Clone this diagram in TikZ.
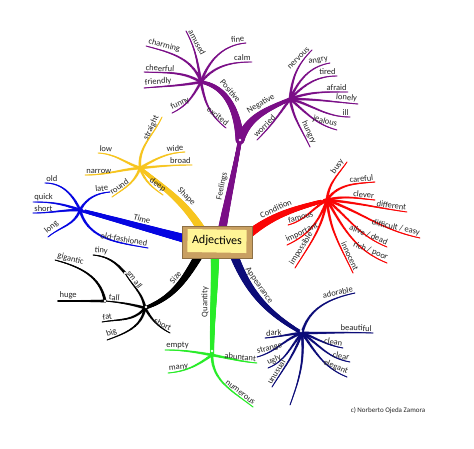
\documentclass[tikz,border=0pt]{standalone}
\usepackage{fontspec}
\setmainfont{Carlito}
\usetikzlibrary{positioning,decorations.markings}

\definecolor{feelc}{RGB}{122,14,135}
\definecolor{condc}{RGB}{250,5,5}
\definecolor{timec}{RGB}{5,5,225}
\definecolor{shapec}{RGB}{247,197,30}
\definecolor{quantc}{RGB}{40,236,40}
\definecolor{appc}{RGB}{12,12,120}
\definecolor{corkc}{RGB}{201,160,98}
\definecolor{notec}{RGB}{255,244,150}

\begin{document}
\begin{tikzpicture}[x=1pt, y=-1pt,
  taper/.style 2 args={line width=#2, line cap=round,
    postaction={decorate, decoration={markings,
      mark=between positions 0 and 1 step 1pt with {
        \pgfmathsetmacro\rr{(#1-(#1-#2)*\pgfkeysvalueof{/pgf/decoration/mark info/distance from start}/\pgfdecoratedpathlength)/2}
        \fill (0,0) circle (\rr pt);}}}},
  leaf/.style={taper={3.2}{0.9}},
  trunk/.style={taper={9}{3.5}},
  lbl/.style={font=\fontsize{8.5}{9.5}\selectfont, text=black!85, inner sep=1pt},
  tag/.style={lbl, sloped, above=2pt},
  cork/.style={rectangle, fill=corkc, draw=corkc!70!black, line width=0.4pt, minimum width=70pt, minimum height=32pt},
  note/.style={rectangle, fill=notec, minimum width=59pt, minimum height=23pt, font=\fontsize{12}{13}\selectfont, inner sep=1pt},
  dot/.style={fill=white}
]
\useasboundingbox[fill=white] (0,0) rectangle (474,448);

% Hubs
\coordinate (feelS) at (221,236);
\coordinate (F) at (240,140);
\coordinate (pos) at (201,82);
\coordinate (neg) at (290,99);
\coordinate (condS) at (244,238);
\coordinate (cond) at (327,200);
\coordinate (timeS) at (190,240);
\coordinate (time) at (80,210);
\coordinate (shapeS) at (204,234);
\coordinate (shape) at (140,168);
\coordinate (sizeS) at (202,250);
\coordinate (size) at (145,308);
\coordinate (quantS) at (215,250);
\coordinate (quant) at (212,355);
\coordinate (appS) at (232,250);
\coordinate (app) at (302,333);
\coordinate (smalldot) at (125,273);
\coordinate (talldot) at (105,301);

% Main branches
\draw[trunk, feelc, taper={6}{4}] (feelS) to[out=80, in=-100] node[tag, pos=0.5] (l-feel) {Feelings} (F);
\draw[trunk, feelc, taper={4.5}{3}] (F) to[out=95, in=-10] node[tag, pos=0.62] (l-pos) {Positive} (pos);
\draw[trunk, feelc, taper={4.5}{3}] (F) to[out=70, in=205] node[tag, pos=0.6] (l-neg) {Negative} (neg);
\draw[trunk, condc] (condS) to[out=40, in=195] node[tag, pos=0.45] (l-cond) {Condition} (cond);
\draw[trunk, timec] (timeS) to[out=165, in=-15] node[tag, pos=0.45] (l-time) {Time} (time);
\draw[trunk, shapec] (shapeS) to[out=120, in=-40] node[tag, pos=0.42] (l-shape) {Shape} (shape);
\draw[trunk, black] (sizeS) to[out=-120, in=20] node[tag, pos=0.45] (l-size) {Size} (size);
\draw[trunk, quantc, taper={7}{4}] (quantS) to[out=-90, in=90] (quant);
\draw[trunk, appc] (appS) to[out=-70, in=150] node[tag, pos=0.4] (l-app) {Appearance} (app);
\node[lbl, rotate=90] (l-quant) at (205,302) {Quantity};

% Feelings: positive
\foreach \nm/\ax/\ay/\ao/\ai/\txt in {
  amused/186/31/100/-62/amused,
  fine/246/43/70/185/fine,
  calm/252/62/50/180/calm,
  charming/146/46/110/-15/charming,
  cheerful/144/72/150/-3/cheerful,
  friendly/144/88/190/5/friendly,
  funny/172/113/240/25/funny,
  excited/226/128/280/142/excited}
{
  \pgfmathtruncatemacro\lft{cos(\ai)>0}
  \ifnum\lft=1 \def\anc{south west}\else\def\anc{south east}\fi
  \coordinate (\nm) at (\ax,\ay);
  \draw[leaf, feelc] (pos) to[out=\ao, in=\ai] node[lbl, sloped, pos=1, anchor=\anc] (l-\nm) {\txt} (\nm);
}

% Feelings: negative
\foreach \nm/\ax/\ay/\ao/\ai/\txt in {
  nervous/312/50/85/225/nervous,
  angry/330/63/65/190/angry,
  tired/337/76/45/180/tired,
  afraid/348/92/20/180/afraid,
  lonely/358/104/0/175/lonely,
  ill/350/117/-15/180/ill,
  jealous/337/130/-40/165/jealous,
  hungry/310/147/-80/115/hungry,
  worried/257/140/235/45/worried}
{
  \pgfmathtruncatemacro\lft{cos(\ai)>0}
  \ifnum\lft=1 \def\anc{south west}\else\def\anc{south east}\fi
  \coordinate (\nm) at (\ax,\ay);
  \draw[leaf, feelc] (neg) to[out=\ao, in=\ai] node[lbl, sloped, pos=1, anchor=\anc] (l-\nm) {\txt} (\nm);
}

% Condition
\foreach \nm/\ax/\ay/\ao/\ai/\txt in {
  busy/347/162/85/235/busy,
  careful/375/182/55/185/careful,
  clever/375/200/15/175/clever,
  different/407/212/-5/172/different,
  difficult/420/238/-20/168/{difficult / easy},
  alive/387/247/-40/158/{alive / dead},
  rich/387/263/-60/158/{rich / poor},
  innocent/353/273/-85/115/innocent,
  impossible/295/268/-100/58/impossible,
  important/287/245/-110/25/important,
  famous/288/225/-150/15/famous}
{
  \pgfmathtruncatemacro\lft{cos(\ai)>0}
  \ifnum\lft=1 \def\anc{south west}\else\def\anc{south east}\fi
  \coordinate (\nm) at (\ax,\ay);
  \draw[leaf, condc] (cond) to[out=\ao, in=\ai] node[lbl, sloped, pos=1, anchor=\anc] (l-\nm) {\txt} (\nm);
}

% Time
\foreach \nm/\ax/\ay/\ao/\ai/\txt in {
  old/45/183/115/0/old,
  quick/33/202/160/0/quick,
  t-short/33/213/180/0/short,
  long/48/237/-110/40/long,
  late/110/192/60/185/late,
  oldfash/148/248/-75/170/old-fashioned}
{
  \pgfmathtruncatemacro\lft{cos(\ai)>0}
  \ifnum\lft=1 \def\anc{south west}\else\def\anc{south east}\fi
  \coordinate (\nm) at (\ax,\ay);
  \draw[leaf, timec] (time) to[out=\ao, in=\ai] node[lbl, sloped, pos=1, anchor=\anc] (l-\nm) {\txt} (\nm);
}

% Shape
\foreach \nm/\ax/\ay/\ao/\ai/\txt in {
  straight/162/117/95/245/straight,
  low/98/153/160/-3/low,
  wide/185/152/30/183/wide,
  broad/192/165/5/180/broad,
  narrow/85/175/185/0/narrow,
  round/112/197/-110/35/round,
  deep/163/195/-70/145/deep}
{
  \pgfmathtruncatemacro\lft{cos(\ai)>0}
  \ifnum\lft=1 \def\anc{south west}\else\def\anc{south east}\fi
  \coordinate (\nm) at (\ax,\ay);
  \draw[leaf, shapec] (shape) to[out=\ao, in=\ai] node[lbl, sloped, pos=1, anchor=\anc] (l-\nm) {\txt} (\nm);
}

% Size
\coordinate (tiny) at (93,255);
\coordinate (huge) at (58,301);
\coordinate (gigantic) at (55,260);
\draw[leaf, black] (size) to[out=100, in=-60] node[lbl, sloped, pos=0.75, above] (l-small) {sm all} (smalldot);
\draw[leaf, black, taper={2.2}{0.9}] (smalldot) to[out=130, in=-5] node[lbl, sloped, pos=1, anchor=south west] (l-tiny) {tiny} (tiny);
\draw[leaf, black] (size) to[out=165, in=-5] node[lbl, sloped, pos=0.8, above] (l-tall) {tall} (talldot);
\draw[leaf, black, taper={2.4}{1.2}] (talldot) to[out=180, in=0] node[lbl, sloped, pos=1, anchor=south west] (l-huge) {huge} (huge);
\draw[leaf, black, taper={2.2}{0.9}] (talldot) to[out=100, in=-15] node[lbl, sloped, pos=1, anchor=south west] (l-gigantic) {gigantic} (gigantic);
\foreach \nm/\ax/\ay/\ao/\ai/\txt in {
  fat/102/322/-130/10/fat,
  big/107/340/-100/20/big,
  z-short/170/333/-60/152/short}
{
  \pgfmathtruncatemacro\lft{cos(\ai)>0}
  \ifnum\lft=1 \def\anc{south west}\else\def\anc{south east}\fi
  \coordinate (\nm) at (\ax,\ay);
  \draw[leaf, black] (size) to[out=\ao, in=\ai] node[lbl, sloped, pos=1, anchor=\anc] (l-\nm) {\txt} (\nm);
}

% Quantity
\foreach \nm/\ax/\ay/\ao/\ai/\txt in {
  empty/165/350/170/0/empty,
  many/168/373/215/5/many,
  abuntant/257/363/-10/175/abuntant,
  numerous/253/407/-90/142/numerous}
{
  \pgfmathtruncatemacro\lft{cos(\ai)>0}
  \ifnum\lft=1 \def\anc{south west}\else\def\anc{south east}\fi
  \coordinate (\nm) at (\ax,\ay);
  \draw[leaf, quantc] (quant) to[out=\ao, in=\ai] node[lbl, sloped, pos=1, anchor=\anc] (l-\nm) {\txt} (\nm);
}

% Appearance
\foreach \nm/\ax/\ay/\ao/\ai/\txt in {
  adorable/355/293/75/192/adorable,
  beautiful/373/333/0/178/beautiful,
  clean/343/348/-20/170/clean,
  clear/350/362/-35/170/clear,
  elegant/347/377/-55/158/elegant,
  dark/265/338/185/5/dark,
  strange/257/357/200/15/strange,
  ugly/268/368/-130/22/ugly,
  unusual/272/387/-110/58/unusual}
{
  \pgfmathtruncatemacro\lft{cos(\ai)>0}
  \ifnum\lft=1 \def\anc{south west}\else\def\anc{south east}\fi
  \coordinate (\nm) at (\ax,\ay);
  \draw[leaf, appc] (app) to[out=\ao, in=\ai] node[lbl, sloped, pos=1, anchor=\anc] (l-\nm) {\txt} (\nm);
}
\coordinate (tail) at (290,405);
\draw[leaf, appc] (app) to[out=-85, in=70] (tail);

% Dots
\foreach \p in {(240,140),(283,98),(322,199),(84,209),(125,273),(105,301),(146,307),(212,351),(301,331)}
  \fill[dot] \p circle (1.3);

% Centre
\node[cork] (board) at (217,242) {};
\node[note, rotate=-1] (adj) at (217,241) {Adjectives};

\node[lbl, font=\fontsize{7}{8}\selectfont] (credit) at (388,411) {c) Norberto Ojeda Zamora};

\end{tikzpicture}
\end{document}
